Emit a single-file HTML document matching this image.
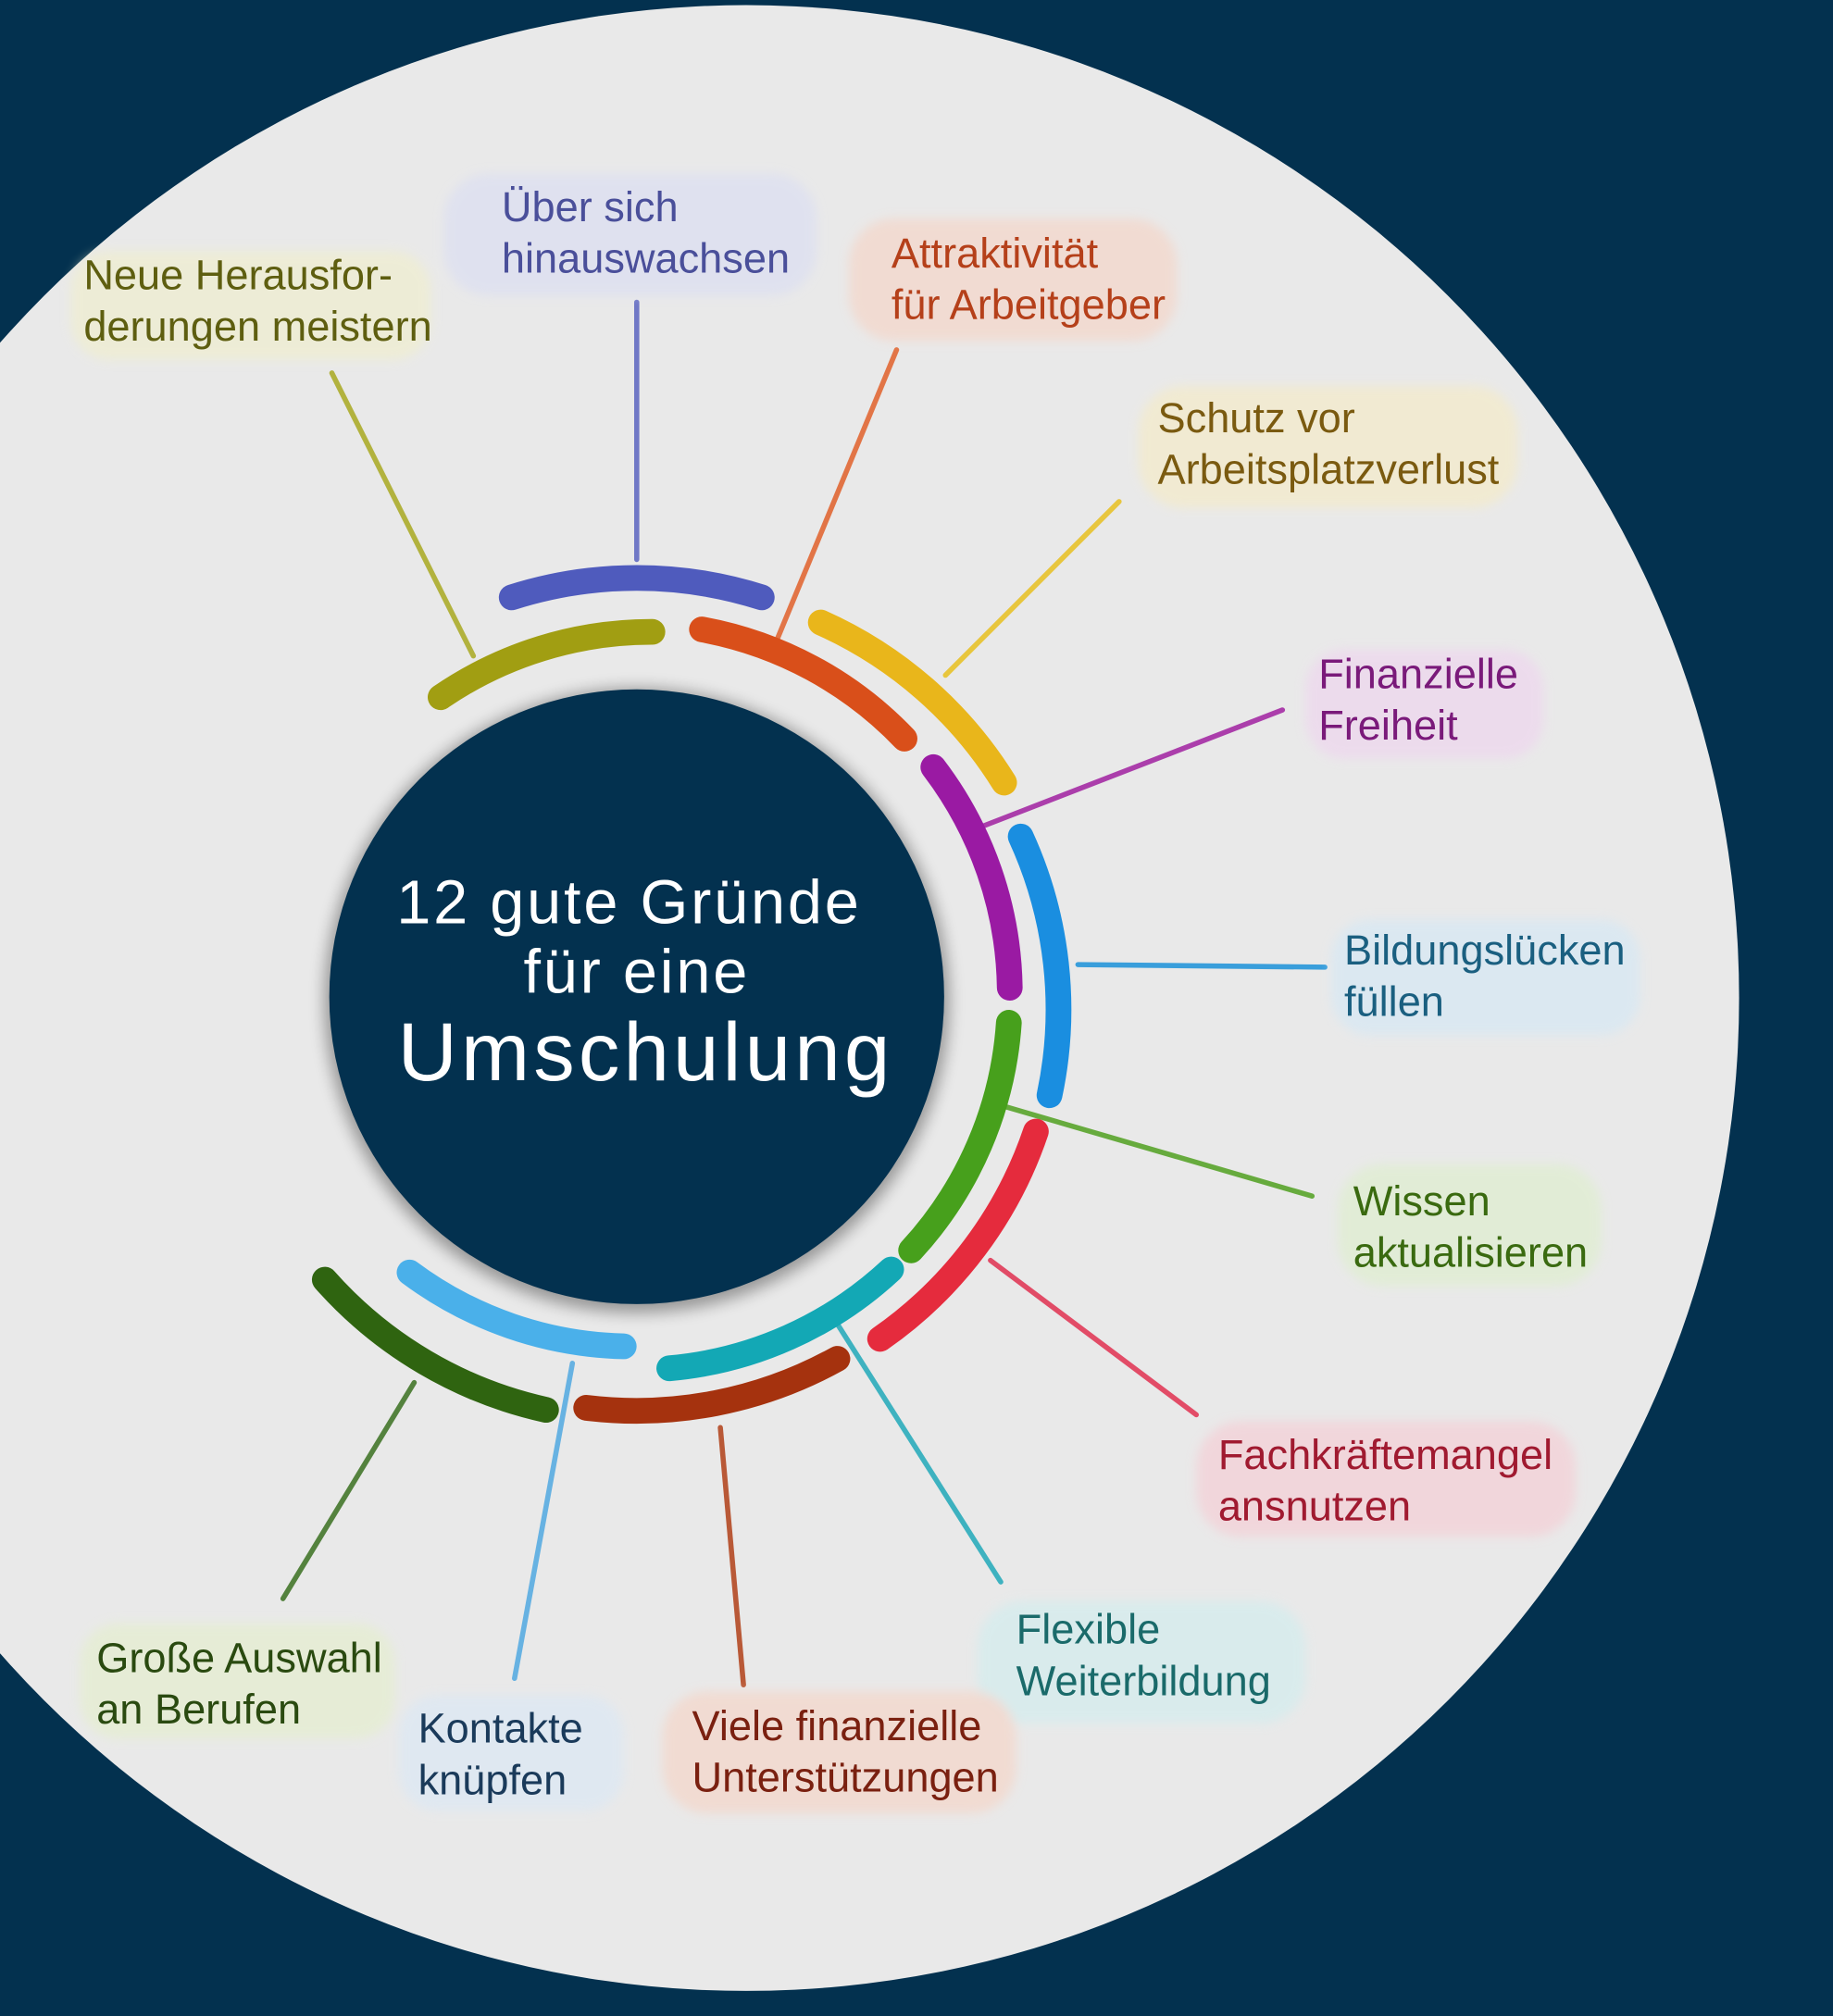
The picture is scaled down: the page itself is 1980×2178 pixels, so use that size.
<!DOCTYPE html>
<html><head><meta charset="utf-8"><style>
html,body{margin:0;padding:0;background:#03314f;}
svg{display:block}
text{font-family:"Liberation Sans",sans-serif;}
</style></head><body>
<svg width="1980" height="2178" viewBox="0 0 1425 1567.5" preserveAspectRatio="none">
<defs>
<filter id="sh" x="-20%" y="-20%" width="140%" height="140%"><feGaussianBlur stdDeviation="6"/></filter>
<filter id="bl" x="-20%" y="-40%" width="140%" height="180%"><feGaussianBlur stdDeviation="4"/></filter>
</defs>
<rect width="1425" height="1567.5" fill="#03314f"/>
<circle cx="580" cy="776" r="772" fill="#e9e9e9"/>
<circle cx="495" cy="778" r="243" fill="#000" opacity="0.35" filter="url(#sh)"/>
<circle cx="495" cy="775" r="239" fill="#03314f"/>
<g stroke-width="4" stroke-linecap="round" fill="none" opacity="0.85">
<line x1="258" y1="290" x2="368" y2="510" stroke="#a8a820"/>
<line x1="495" y1="235" x2="495" y2="435" stroke="#5a64c0"/>
<line x1="697" y1="272" x2="603" y2="500" stroke="#e0602a"/>
<line x1="870" y1="390" x2="735" y2="525" stroke="#e8c020"/>
<line x1="997" y1="552" x2="765" y2="642" stroke="#a020a0"/>
<line x1="1030" y1="752" x2="838" y2="750" stroke="#1a90d8"/>
<line x1="1020" y1="930" x2="780" y2="860" stroke="#50a020"/>
<line x1="930" y1="1100" x2="770" y2="980" stroke="#e03050"/>
<line x1="778" y1="1230" x2="645" y2="1020" stroke="#20a8b8"/>
<line x1="578" y1="1310" x2="560" y2="1110" stroke="#b04018"/>
<line x1="400" y1="1305" x2="445" y2="1060" stroke="#50a8e0"/>
<line x1="220" y1="1243" x2="322" y2="1075" stroke="#3a7020"/>
</g>
<g filter="url(#bl)" opacity="0.55">
<rect x="55" y="195" width="280" height="85" rx="30" fill="#f2f0c8"/>
<rect x="345" y="135" width="290" height="95" rx="35" fill="#d8dcf4"/>
<rect x="660" y="170" width="255" height="95" rx="35" fill="#f8d0c0"/>
<rect x="885" y="300" width="295" height="95" rx="35" fill="#f8ecc0"/>
<rect x="1015" y="505" width="185" height="85" rx="30" fill="#f0d0f0"/>
<rect x="1035" y="715" width="240" height="90" rx="30" fill="#d0e8f8"/>
<rect x="1040" y="905" width="205" height="95" rx="35" fill="#dcf0c8"/>
<rect x="930" y="1105" width="295" height="90" rx="35" fill="#f8c8d0"/>
<rect x="760" y="1245" width="255" height="95" rx="35" fill="#cceef0"/>
<rect x="515" y="1315" width="275" height="95" rx="35" fill="#f8d0c0"/>
<rect x="310" y="1318" width="175" height="90" rx="30" fill="#d8e8f8"/>
<rect x="62" y="1262" width="245" height="90" rx="30" fill="#e4f0c8"/>
</g>
<g font-size="32.5">
<text x="65" y="225" fill="#5e5e10">Neue Herausfor-</text><text x="65" y="265" fill="#5e5e10">derungen meistern</text>
<text x="390" y="172" fill="#4a4f9a">Über sich</text><text x="390" y="212" fill="#4a4f9a">hinauswachsen</text>
<text x="693" y="208" fill="#b5401a">Attraktivität</text><text x="693" y="248" fill="#b5401a">für Arbeitgeber</text>
<text x="900" y="336" fill="#7a5a10">Schutz vor</text><text x="900" y="376" fill="#7a5a10">Arbeitsplatzverlust</text>
<text x="1025" y="535" fill="#7a1a7a">Finanzielle</text><text x="1025" y="575" fill="#7a1a7a">Freiheit</text>
<text x="1045" y="750" fill="#1a5f80">Bildungslücken</text><text x="1045" y="790" fill="#1a5f80">füllen</text>
<text x="1052" y="945" fill="#3a6a10">Wissen</text><text x="1052" y="985" fill="#3a6a10">aktualisieren</text>
<text x="947" y="1142" fill="#a01a30">Fachkräftemangel</text><text x="947" y="1182" fill="#a01a30">ansnutzen</text>
<text x="790" y="1278" fill="#1a6a6a">Flexible</text><text x="790" y="1318" fill="#1a6a6a">Weiterbildung</text>
<text x="538" y="1353" fill="#7a2010">Viele finanzielle</text><text x="538" y="1393" fill="#7a2010">Unterstützungen</text>
<text x="325" y="1355" fill="#1a3a5a">Kontakte</text><text x="325" y="1395" fill="#1a3a5a">knüpfen</text>
<text x="75" y="1300" fill="#2a4a10">Große Auswahl</text><text x="75" y="1340" fill="#2a4a10">an Berufen</text>
</g>
<g fill="#fff" text-anchor="middle">
<text x="489" y="718" font-size="48" letter-spacing="2">12 gute Gründe</text>
<text x="495" y="772" font-size="48" letter-spacing="2">für eine</text>
<text x="502" y="840" font-size="64" letter-spacing="3">Umschulung</text>
</g>
<g fill="none" stroke-linecap="round" stroke-width="20">
<path d="M397.8,464.5 A320,320 0 0 1 592.2,464.5" stroke="#4f5bbd"/>
<path d="M342.5,542.1 A290,290 0 0 1 507.2,491.3" stroke="#a19e12"/>
<path d="M545.7,489.4 A290,290 0 0 1 703.2,574.3" stroke="#d94f1a"/>
<path d="M638.1,484.0 A322,322 0 0 1 780.6,608.5" stroke="#e9b61b"/>
<path d="M725.6,596.5 A290,290 0 0 1 785.0,768.0" stroke="#9a1aa3"/>
<path d="M793.5,650.4 A322,322 0 0 1 815.9,851.6" stroke="#1a8ee0"/>
<path d="M784.3,795.2 A290,290 0 0 1 708.3,972.2" stroke="#47a01c"/>
<path d="M805.3,879.8 A322,322 0 0 1 684.2,1041.0" stroke="#e52b3d"/>
<path d="M692.8,987.1 A290,290 0 0 1 520.3,1063.9" stroke="#13a8b5"/>
<path d="M651.0,1056.5 A322,322 0 0 1 455.7,1094.6" stroke="#a5320e"/>
<path d="M484.9,1046.8 A290,290 0 0 1 318.4,989.4" stroke="#4ab0ea"/>
<path d="M252.5,995.0 A322,322 0 0 0 424.5,1096.2" stroke="#2f6410"/>
</g>
</svg>
</body></html>
